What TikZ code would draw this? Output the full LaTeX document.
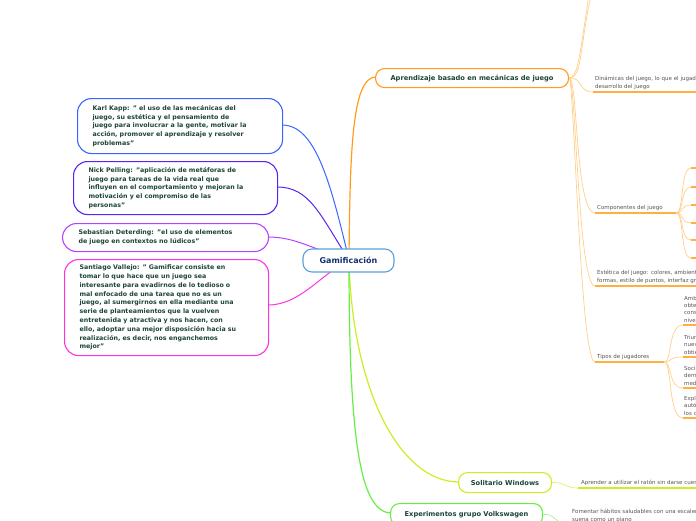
\documentclass[tikz,border=0pt]{standalone}
\usepackage{fontspec}
\setmainfont{DejaVu Sans}
\newcommand\qt{{\char34}}
\begin{document}
\begin{tikzpicture}[x=1pt,y=-1pt,
  leftbox/.style={draw, line width=1.1pt, rounded corners=14pt, fill=white, anchor=north west,
     align=left, inner xsep=15pt, inner ysep=0pt, font=\bfseries\fontsize{6.3}{8.8}\selectfont, text=textgreen},
  mainbox/.style={draw, line width=1.1pt, rounded corners=9pt, fill=white, anchor=north west,
     align=center, inner sep=0pt, font=\bfseries\fontsize{6.7}{8}\selectfont, text=textgreen},
  small/.style={anchor=south west, align=left, inner xsep=2pt, inner ysep=2.5pt, text=smallgray,
     font=\fontsize{5.5}{7.6}\selectfont},
  thin/.style={line width=0.7pt},
  under/.style={line width=1.6pt},
]
\definecolor{textgreen}{HTML}{1D4536}
\definecolor{smallgray}{HTML}{555555}
\definecolor{kappc}{HTML}{3A66FF}
\definecolor{pellc}{HTML}{5A24EE}
\definecolor{detc}{HTML}{B444FF}
\definecolor{valc}{HTML}{FF33DD}
\definecolor{centerc}{HTML}{5BA0D8}
\definecolor{orc}{HTML}{FF9D1E}
\definecolor{orl}{HTML}{FFCF8A}
\definecolor{orm}{HTML}{FFB040}
\definecolor{ygc}{HTML}{CCEE22}
\definecolor{ygl}{HTML}{DDF266}
\definecolor{grc}{HTML}{66EE44}
\definecolor{grl}{HTML}{A8F290}

\useasboundingbox (0,0) rectangle (696,520);
\clip (0,0) rectangle (696,520);

% ---------- coordinates ----------
\coordinate (gc) at (349,260);

% ---------- connectors from centre ----------
\draw[kappc, line width=1pt] (282,125) .. controls (315,125) and (330,180) .. (gc);
\draw[pellc, line width=1pt] (277,187) .. controls (310,187) and (320,215) .. (gc);
\draw[detc, line width=1pt] (268,237) .. controls (295,237) and (310,248) .. (gc);
\draw[valc, line width=1pt] (268,305) .. controls (300,305) and (320,275) .. (gc);
\draw[orc, line width=1.2pt] (gc) .. controls (350,150) and (352,77) .. (376,77);
\draw[ygc, line width=1.2pt] (gc) .. controls (352,390) and (400,482) .. (459,482);
\draw[grc, line width=1.2pt] (gc) .. controls (349,440) and (360,512) .. (391,513);

% ---------- left nodes ----------
\node[leftbox, draw=kappc, text width=175pt, minimum height=55pt] (kapp) at (77,98)
 {Karl Kapp: \qt{} el uso de las mecánicas del\\juego, su estética y el pensamiento de\\juego para involucrar a la gente, motivar la\\acción, promover el aprendizaje y resolver\\problemas\qt};
\node[leftbox, draw=pellc, text width=174pt, minimum height=53pt] (pelling) at (73,161)
 {Nick Pelling: \qt aplicación de metáforas de\\juego para tareas de la vida real que\\influyen en el comportamiento y mejoran la\\motivación y el compromiso de las\\personas\qt};
\node[leftbox, draw=detc, text width=174pt, inner xsep=16pt, minimum height=28pt] (deterding) at (62,223)
 {Sebastian Deterding: \qt el uso de elementos\\de juego en contextos no lúdicos\qt};
\node[leftbox, draw=valc, text width=174pt, minimum height=96pt] (vallejo) at (64,259)
 {Santiago Vallejo: \qt{} Gamificar consiste en\\tomar lo que hace que un juego sea\\interesante para evadirnos de lo tedioso o\\mal enfocado de una tarea que no es un\\juego, al sumergirnos en ella mediante una\\serie de planteamientos que la vuelven\\entretenida y atractiva y nos hacen, con\\ello, adoptar una mejor disposición hacia su\\realización, es decir, nos enganchemos\\mejor\qt};

% ---------- centre ----------
\node[draw=centerc, line width=1.1pt, rounded corners=9pt, fill=white, minimum width=91pt, minimum height=23pt,
  inner sep=0pt, text=textgreen!70!blue, font=\bfseries\fontsize{8}{9}\selectfont] (gam) at (348.5,260.5) {Gamificación};

% ---------- Aprendizaje branch ----------
\node[mainbox, draw=orc, minimum width=193pt, minimum height=19pt] (apr) at (375,68)
 {Aprendizaje basado en mecánicas de juego};

\node[small, text width=150pt] (din) at (593,92) {Dinámicas del juego, lo que el jugador desea y\\desarrollo del juego};
\node[small, text width=77pt] (comp) at (595,213) {Componentes del juego};
\node[small, text width=150pt] (est) at (595,286) {Estética del juego: colores, ambientación,\\formas, estilo de puntos, interfaz gráfica};
\node[small, text width=65pt] (tipos) at (595,362) {Tipos de jugadores};

\coordinate (up1) at (600,-40);
\coordinate (up2) at (610,-120);
\draw[orl, thin] (apr.east) .. controls (585,77) and (577,40) .. (up1);
\draw[orl, thin] (apr.east) .. controls (583,77) and (580,20) .. (up2);
\draw[orl, thin] (apr.east) .. controls (583,77) and (578,92) .. (din.south west);
\draw[orl, thin] (apr.east) .. controls (578,77) and (575,213) .. (comp.south west);
\draw[orl, thin] (apr.east) .. controls (576,77) and (578,286) .. (est.south west);
\draw[orl, thin] (apr.east) .. controls (574,77) and (580,362) .. (tipos.south west);

\draw[orm, under] (din.south west) -- (din.south east);
\draw[orm, under] (comp.south west) -- (comp.south east);
\draw[orm, under] (est.south west) -- (est.south east);
\draw[orm, under] (tipos.south west) -- (tipos.south east);

% componentes children
\foreach \i/\y in {1/168,2/187,3/205,4/223,5/240,6/258}{
  \coordinate (c\i) at (691,\y);
  \draw[orl, thin] (comp.south east) .. controls (684,213) and (680,\y) .. (c\i);
  \draw[orm, under] (c\i) -- (700,\y);
}

% tipos children
\node[small, text width=70pt, inner xsep=1pt, font=\fontsize{5.5}{7.3}\selectfont] (t1) at (683,325) {Ambiciosos:\\obtener\\conseguir\\niveles};
\node[small, text width=70pt, inner xsep=1pt, font=\fontsize{5.5}{7.3}\selectfont] (t2) at (683,357) {Triunfadores:\\nuevos\\obtienen};
\node[small, text width=70pt, inner xsep=1pt, font=\fontsize{5.5}{7.3}\selectfont] (t3) at (683,388) {Socializadores:\\demuestran\\mediante};
\node[small, text width=70pt, inner xsep=1pt, font=\fontsize{5.5}{7.3}\selectfont] (t4) at (683,418) {Exploradores:\\autónomos\\los cambios};
\foreach \t/\y in {t1/325,t2/357,t3/388,t4/418}{
  \draw[orl, thin] (tipos.south east) .. controls (672,362) and (668,\y) .. (\t.south west);
  \draw[orm, under] (\t.south west) -- (\t.south east);
}

% ---------- Solitario ----------
\node[mainbox, draw=ygc, minimum width=93pt, minimum height=20pt] (sol) at (458,472) {Solitario Windows};
\node[small, text width=140pt, inner xsep=3pt] (solc) at (578,488) {Aprender a utilizar el ratón sin darse cuenta};
\draw[ygl, thin] (sol.east) .. controls (565,482) and (565,488) .. (solc.south west);
\draw[ygc, under] (solc.south west) -- (solc.south east);

% ---------- Experimentos ----------
\node[mainbox, draw=grc, minimum width=152pt, minimum height=22pt] (exp) at (390,503) {Experimentos grupo Volkswagen};
\node[small, text width=150pt, inner xsep=2pt] (expc) at (570,525) {Fomentar hábitos saludables con una escalera que\\suena como un piano};
\draw[grl, thin] (exp.east) .. controls (555,513) and (556,525) .. (expc.south west);
\draw[grc, under] (expc.south west) -- (expc.south east);
\end{tikzpicture}
\end{document}
